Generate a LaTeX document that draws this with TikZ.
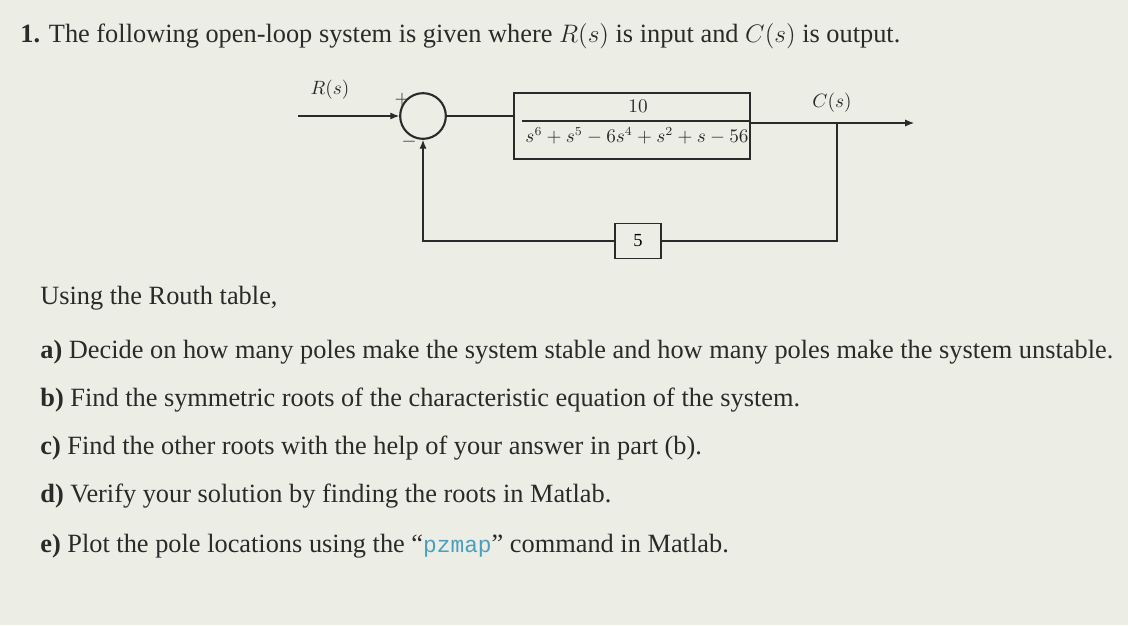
\documentclass[tikz,border=0pt]{standalone}
\usepackage{fontspec}
\setmainfont{Liberation Serif}
\usetikzlibrary{arrows.meta}
\definecolor{bg}{HTML}{ECEDE4}
\definecolor{ink}{HTML}{2A2A2A}
\definecolor{pz}{HTML}{4A9FC0}
\begin{document}
\begin{tikzpicture}[x=0.02cm,y=-0.02cm,
  txt/.style={anchor=base west,inner sep=0,text=ink,font=\fontsize{15}{17}\selectfont},
  dtxt/.style={inner sep=0,text=ink,font=\fontsize{10.5}{12}\selectfont},
  blk/.style={draw=ink,line width=0.7pt,inner sep=0},
  ln/.style={draw=ink,line width=0.6pt},
  arr/.style={ln,-{Latex[length=5pt,width=4pt]}}]
\fill[bg] (0,0) rectangle (1128,625);
\useasboundingbox (0,0) rectangle (1128,625);
\node[txt] (t) at (20,43) {\textbf{1.} The following open-loop system is given where $R(s)$ is input and $C(s)$ is output.};
% diagram
\node[dtxt] (R) at (330,90) {$R(s)$};
\node[dtxt] (C) at (832,103) {$C(s)$};
\coordinate (in) at (298,116);
\node[draw=ink,line width=1.2pt,circle,minimum size=26pt,inner sep=0] (sum) at (423,116) {};
\node[dtxt] (plus) at (402,100) {$+$};
\node[dtxt] (minus) at (409,142) {$-$};
\draw[blk] (514,93) rectangle (750,159);
\coordinate (Gl) at (514,116);
\coordinate (Gr) at (750,123);
\node[dtxt] (num) at (638,106) {$10$};
\node[dtxt] (den) at (637,136) {$s^6+s^5-6s^4+s^2+s-56$};
\draw[ln] (522,121) -- (750,121);
\node[blk,minimum width=46*0.02cm,minimum height=35*0.02cm] (H) at (638,241) {\fontsize{10.5}{12}\selectfont 5};
\coordinate (out) at (914,123);
\coordinate (br) at (837,123);
\draw[arr] (in) -- (sum.west);
\draw[ln] (sum.east) -- (Gl);
\draw[arr] (Gr) -- (out);
\draw[ln] (br) |- (H.east);
\draw[arr] (H.west) -| (sum.south);
% questions
\node[txt] (u) at (40,304) {Using the Routh table,};
\node[txt] (a) at (40,358) {\textbf{a)} Decide on how many poles make the system stable and how many poles make the system unstable.};
\node[txt] (b) at (40,406) {\textbf{b)} Find the symmetric roots of the characteristic equation of the system.};
\node[txt] (c) at (40,454) {\textbf{c)} Find the other roots with the help of your answer in part (b).};
\node[txt] (d) at (40,502) {\textbf{d)} Verify your solution by finding the roots in Matlab.};
\node[txt] (e) at (40,552) {\textbf{e)} Plot the pole locations using the “{\color{pz}\fontspec{Liberation Mono}\fontsize{13}{15}\selectfont pzmap}” command in Matlab.};
\end{tikzpicture}
\end{document}
